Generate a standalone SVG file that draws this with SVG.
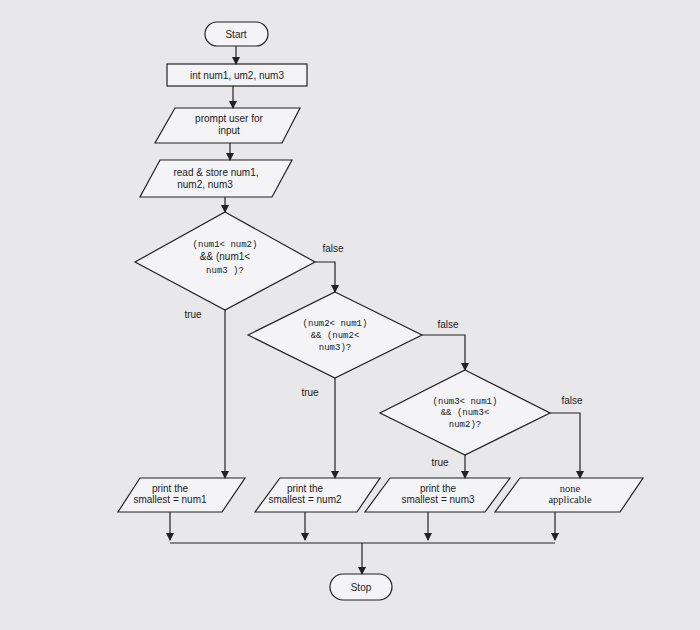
<svg xmlns="http://www.w3.org/2000/svg" width="700" height="630" viewBox="0 0 700 630">
<defs>
<marker id="ah" markerWidth="8" markerHeight="8" refX="7" refY="4" orient="auto" markerUnits="userSpaceOnUse"><path d="M0,0 L8,4 L0,8 z" fill="#222"/></marker>
<style>
.s{fill:#f4f4f6;stroke:#222;stroke-width:1.2}
.t{font-family:"Liberation Sans",Arial,sans-serif;font-size:10px;fill:#222;text-anchor:middle}
.m{font-family:"Liberation Mono",monospace;font-size:9px;fill:#222;text-anchor:middle}
.r{font-family:"Liberation Serif",serif;font-size:10.5px;fill:#222;text-anchor:middle}
.c{fill:none;stroke:#222;stroke-width:1.2}
</style>
</defs>
<rect width="700" height="630" fill="#e8e8ea"/>
<g id="start"><rect class="s" x="205" y="22" width="63" height="24" rx="12"/><text class="t" x="236" y="38">Start</text></g>
<g id="decl"><rect class="s" x="167" y="64" width="140" height="22"/><text class="t" x="237" y="79">int num1, um2, num3</text></g>
<g id="prompt"><polygon class="s" points="175,108 300,108 282,143 155,143"/><text class="t" x="229" y="122">prompt user for</text><text class="t" x="229" y="134">input</text></g>
<g id="read"><polygon class="s" points="160,160 292,160 272,197 140,197"/><text class="t" x="216" y="176">read &amp; store num1,</text><text class="t" x="205" y="188">num2, num3</text></g>
<g id="d1"><polygon class="s" points="225,212 315,262 225,310 135,262"/><text class="m" x="225" y="247">(num1&lt; num2)</text><text class="t" x="225" y="260">&amp;&amp; (num1&lt;</text><text class="m" x="225" y="273">num3 )?</text></g>
<g id="d2"><polygon class="s" points="335,292 422,335 335,378 248,335"/><text class="m" x="335" y="326">(num2&lt; num1)</text><text class="m" x="335" y="338">&amp;&amp; (num2&lt;</text><text class="m" x="335" y="350">num3)?</text></g>
<g id="d3"><polygon class="s" points="465,370 550,413 465,455 380,413"/><text class="m" x="465" y="404">(num3&lt; num1)</text><text class="m" x="465" y="415">&amp;&amp; (num3&lt;</text><text class="m" x="465" y="427">num2)?</text></g>
<g id="p1"><polygon class="s" points="140,478 245,478 222,512 118,512"/><text class="t" x="170" y="492">print the</text><text class="t" x="170" y="503">smallest = num1</text></g>
<g id="p2"><polygon class="s" points="280,478 380,478 357,512 255,512"/><text class="t" x="305" y="492">print the</text><text class="t" x="305" y="503">smallest = num2</text></g>
<g id="p3"><polygon class="s" points="390,478 510,478 485,512 365,512"/><text class="t" x="438" y="492">print the</text><text class="t" x="438" y="503">smallest = num3</text></g>
<g id="p4"><polygon class="s" points="520,478 643,478 620,512 495,512"/><text class="r" x="570" y="492">none</text><text class="r" x="570" y="503">applicable</text></g>
<g id="stop"><rect class="s" x="330" y="574" width="62" height="26" rx="13"/><text class="t" x="361" y="591">Stop</text></g>
<g id="connectors">
<path class="c" d="M236,46 V64" marker-end="url(#ah)"/>
<path class="c" d="M233,86 V108" marker-end="url(#ah)"/>
<path class="c" d="M230,143 V160" marker-end="url(#ah)"/>
<path class="c" d="M225,197 V212" marker-end="url(#ah)"/>
<path class="c" d="M315,262 H335 V292" marker-end="url(#ah)"/>
<path class="c" d="M225,310 V478" marker-end="url(#ah)"/>
<path class="c" d="M422,335 H465 V370" marker-end="url(#ah)"/>
<path class="c" d="M335,378 V478" marker-end="url(#ah)"/>
<path class="c" d="M550,413 H580 V478" marker-end="url(#ah)"/>
<path class="c" d="M465,455 V478" marker-end="url(#ah)"/>
<path class="c" d="M170,512 V540" marker-end="url(#ah)"/>
<path class="c" d="M305,512 V540" marker-end="url(#ah)"/>
<path class="c" d="M428,512 V540" marker-end="url(#ah)"/>
<path class="c" d="M555,512 V540" marker-end="url(#ah)"/>
<path class="c" d="M170,543 H555"/>
<path class="c" d="M362,543 V574" marker-end="url(#ah)"/>
<text class="t" x="333" y="252">false</text>
<text class="t" x="193" y="318">true</text>
<text class="t" x="448" y="328">false</text>
<text class="t" x="310" y="396">true</text>
<text class="t" x="572" y="404">false</text>
<text class="t" x="440" y="466">true</text>
</g>
</svg>
